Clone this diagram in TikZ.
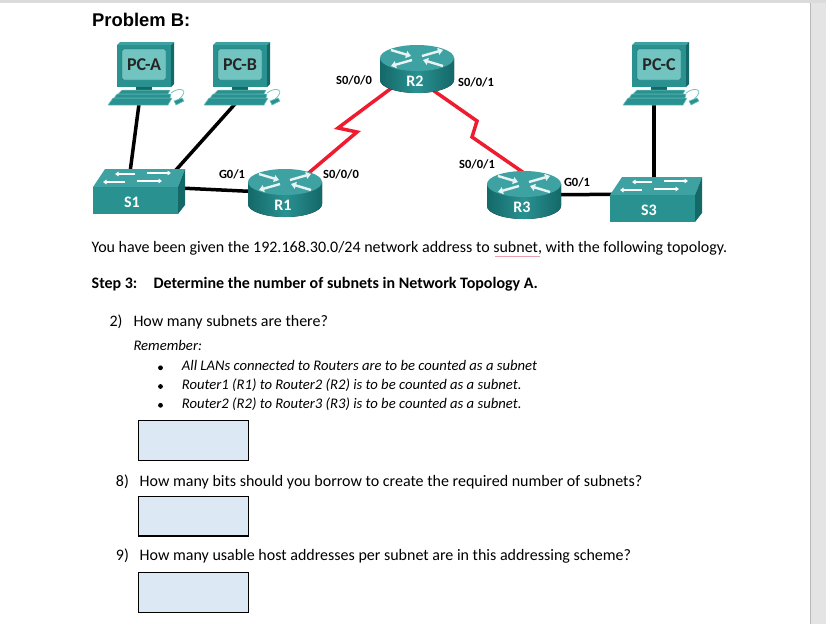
\documentclass[tikz,border=0pt]{standalone}
\usepackage{fontspec}
\setmainfont{Carlito}
\newfontfamily\headfont{Liberation Sans}
\usetikzlibrary{arrows.meta}
\pgfdeclarelayer{background}
\pgfsetlayers{background,main}
\definecolor{tealtop}{HTML}{3FA2A2}
\definecolor{tealmid}{HTML}{2A9191}
\definecolor{tealdark}{HTML}{146868}
\definecolor{tealscreen}{HTML}{72C4C1}
\definecolor{serialred}{HTML}{EE1C2E}
\definecolor{boxblue}{HTML}{DDE8F5}
\definecolor{pagegray}{HTML}{E4E4E4}
\definecolor{spellpink}{HTML}{E8A0B2}
\tikzset{
  pics/router/.style={code={
    \fill[left color=tealdark, right color=tealdark, middle color=tealmid]
      (-37,-11) -- (-37,11) arc[start angle=180, end angle=0, x radius=37, y radius=13] -- (37,-11) -- cycle;
    \fill[tealtop] (0,-11) ellipse[x radius=37, y radius=13];
    \draw[rarrow] (-26,-19) -- (-6,-13);
    \draw[rarrow] (26,-3) -- (6,-9);
    \draw[rarrow] (5,-13) -- (26,-19);
    \draw[rarrow] (-5,-9) -- (-26,-3);
    \node[devlabel] (-lbl) at (-2,12) {#1};
    \coordinate (-c) at (0,0);
    \coordinate (-t) at (0,-22);
    \coordinate (-b) at (0,10);
  }},
  pics/lanswitch/.style={code={
    \fill[tealtop] (-32,-25) -- (48,-25) -- (41,-7) -- (-44,-7) -- cycle;
    \fill[tealmid] (-44,-7) rectangle (41,20);
    \fill[tealdark] (41,-7) -- (48,-25) -- (48,11) -- (41,20) -- cycle;
    \draw[swarrow] (-2,-20) -- (-22,-20);
    \draw[swarrow] (10,-21) -- (34,-21);
    \draw[swarrow] (-12,-12) -- (-34,-12);
    \draw[swarrow] (0,-13) -- (25,-13);
    \node[devlabel] (-lbl) at (-5,8) {#1};
    \coordinate (-c) at (0,-8);
    \coordinate (-l) at (-8,-14);
    \coordinate (-r) at (30,-14);
  }},
  pics/pc/.style={code={
    \fill[tealtop] (-27,-21) -- (-24,-24) -- (30,-24) -- (27,-21) -- cycle;
    \fill[tealdark] (27,-21) -- (30,-24) -- (30,18) -- (27,21) -- cycle;
    \fill[tealmid] (-27,-21) rectangle (27,21);
    \fill[tealscreen, draw=tealdark, rounded corners=2] (-22,-17) rectangle (22,14);
    \node[pclabel] (-lbl) at (0,-1) {#1};
    \fill[tealdark] (-8,21) rectangle (8,24);
    \fill[tealmid, draw=tealscreen, line width=0.5] (-22,24) -- (26,24) -- (24,28) -- (-26,28) -- cycle;
    \fill[tealmid, draw=tealscreen, line width=0.5] (-27,28) -- (27,28) -- (26,32) -- (-30,32) -- cycle;
    \fill[tealmid, draw=tealscreen, line width=0.5] (-31,32) -- (28,32) -- (24,39) -- (-36,39) -- cycle;
    \draw[tealscreen, line width=0.8] (27,27) .. controls (36,20) and (46,24) .. (35,33);
    \fill[tealmid, draw=tealscreen, line width=0.5] (30,35) -- (38,32) -- (40,35) -- (32,39) -- cycle;
    \coordinate (-p) at (-5,38);
  }}
}
\begin{document}
\begin{tikzpicture}[x=1pt, y=-1pt,
    rarrow/.style={white!88!tealtop, line width=2.4, -{Triangle[length=5pt, width=7pt]}},
    swarrow/.style={white, line width=1.4, -{Triangle[length=3.5pt, width=4.5pt]}},
    devlabel/.style={text=white, font=\fontsize{16}{16}\selectfont\bfseries, inner sep=0},
    pclabel/.style={text=black!85, font=\fontsize{18}{18}\selectfont\bfseries, inner sep=0},
    iflabel/.style={font=\fontsize{12.5}{12.5}\selectfont\bfseries, inner sep=0},
    lan/.style={black, line width=3.5},
    serial/.style={serialred, line width=3.5, line join=miter},
    txt/.style={anchor=base west, inner sep=0, font=\fontsize{16}{18}\selectfont},
    itxt/.style={anchor=base west, inner sep=0, font=\fontsize{14.67}{16}\selectfont\itshape},
    btxt/.style={anchor=base west, inner sep=0, font=\fontsize{16}{18}\selectfont\bfseries},
    answerbox/.style={fill=boxblue, draw=black, line width=0.8}]
  \useasboundingbox (0,0) rectangle (826,624);
  \begin{pgfonlayer}{background}
    \fill[white] (0,0) rectangle (826,624);
  \end{pgfonlayer}
  % page edges
  \fill[black!14] (0,0) rectangle (826,3);
  \fill[pagegray] (810,3) rectangle (826,624);
  \draw[black!28] (810,3) -- (810,624);

  \node[anchor=base west, inner sep=0, font=\headfont\fontsize{18.4}{20}\selectfont\bfseries] (title) at (92,26) {Problem B:};

  % devices
  \pic (pca) at (144,66) {pc=PC-A};
  \pic (pcb) at (240,66) {pc=PC-B};
  \pic (pcc) at (659,66) {pc=PC-C};
  \pic (s1) at (137,194) {lanswitch=S1};
  \pic (s3) at (654,202) {lanswitch=S3};
  \pic (r1) at (285,193) {router=R1};
  \pic (r2) at (417,69) {router=R2};
  \pic (r3) at (524,195) {router=R3};

  % links
  \begin{pgfonlayer}{background}
    \draw[lan] (pca-p) -- (s1-l);
    \draw[lan] (pcb-p) -- (s1-r);
    \draw[lan] (s1-c) -- (r1-c);
    \draw[lan] (r3-c) -- (s3-c);
    \draw[lan] (pcc-p) -- (s3-c);
    \draw[serial] (r1-c) -- (357,132) -- (338,128) -- (r2-c);
    \draw[serial] (r2-b) -- (477,121) -- (472,137) -- (r3-t);
  \end{pgfonlayer}

  % interface labels
  \node[iflabel] (r2s0) at (354,80) {S0/0/0};
  \node[iflabel] (r2s1) at (476,82) {S0/0/1};
  \node[iflabel] (r1g0) at (232,174) {G0/1};
  \node[iflabel] (r1s0) at (341,174) {S0/0/0};
  \node[iflabel] (r3s1) at (477,164) {S0/0/1};
  \node[iflabel] (r3g0) at (577,182) {G0/1};

  % text
  \node[txt] (given) at (91.5,252) {You have been given the 192.168.30.0/24 network address to subnet, with the following topology.};
  \draw[spellpink, line width=1.6] (495,256.5) -- (540,256.5);
  \node[btxt] (step) at (91.5,288.3) {Step 3:};
  \node[btxt] (determine) at (153.3,288.3) {Determine the number of subnets in Network Topology A.};
  \node[txt] (q2n) at (109.3,326.7) {2)};
  \node[txt] (q2) at (133.3,326.7) {How many subnets are there?};
  \node[itxt] (remember) at (133.3,350.5) {Remember:};
  \fill (160.5,367.8) circle[radius=2.4];
  \fill (160.5,386.5) circle[radius=2.4];
  \fill (160.5,405.3) circle[radius=2.4];
  \node[itxt] (rule1) at (181.7,370.9) {All LANs connected to Routers are to be counted as a subnet};
  \node[itxt] (rule2) at (181.7,389.6) {Router1 (R1) to Router2 (R2) is to be counted as a subnet.};
  \node[itxt] (rule3) at (181.7,408.4) {Router2 (R2) to Router3 (R3) is to be counted as a subnet.};
  \draw[answerbox] (138.3,420) rectangle (248.3,460);
  \node[txt] (q8n) at (115.7,486) {8)};
  \node[txt] (q8) at (139.5,486) {How many bits should you borrow to create the required number of subnets?};
  \draw[answerbox] (138.3,496) rectangle (248.3,536);
  \draw[black, line width=1.6] (138.3,536) -- (248.3,536);
  \node[txt] (q9n) at (115.7,560.3) {9)};
  \node[txt] (q9) at (139.5,560.3) {How many usable host addresses per subnet are in this addressing scheme?};
  \draw[answerbox] (138.3,572.3) rectangle (248.3,612.7);
\end{tikzpicture}
\end{document}
